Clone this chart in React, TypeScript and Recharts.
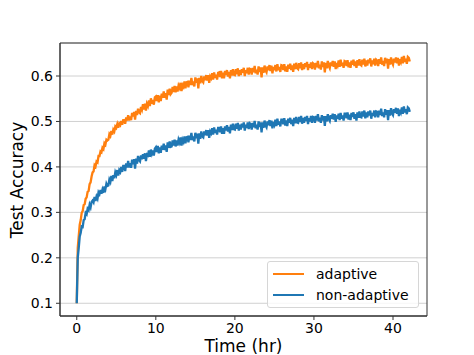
import { LineChart, Line, XAxis, YAxis, CartesianGrid, Legend, ReferenceArea } from "recharts";

// the runs were logged every 0.125 hr
const STEP = 0.125;

// test accuracy, adaptive run (16 samples per 2 hr row)
const adaptive = [
  0.1, 0.222, 0.248, 0.273, 0.283, 0.299, 0.303, 0.316, 0.318, 0.33, 0.333, 0.345, 0.347, 0.362, 0.366, 0.379,
  0.388, 0.39, 0.404, 0.401, 0.412, 0.41, 0.424, 0.424, 0.434, 0.432, 0.442, 0.439, 0.452, 0.449, 0.46, 0.458,
  0.46, 0.472, 0.468, 0.479, 0.471, 0.482, 0.478, 0.489, 0.486, 0.494, 0.486, 0.495, 0.492, 0.501, 0.493, 0.503,
  0.503, 0.495, 0.509, 0.502, 0.514, 0.502, 0.511, 0.503, 0.519, 0.511, 0.521, 0.504, 0.523, 0.514, 0.528, 0.52,
  0.518, 0.532, 0.526, 0.538, 0.526, 0.539, 0.524, 0.539, 0.534, 0.546, 0.534, 0.551, 0.539, 0.547, 0.537, 0.553,
  0.555, 0.545, 0.558, 0.542, 0.557, 0.545, 0.561, 0.552, 0.566, 0.552, 0.562, 0.548, 0.57, 0.558, 0.572, 0.56,
  0.563, 0.576, 0.565, 0.578, 0.564, 0.577, 0.566, 0.579, 0.574, 0.585, 0.567, 0.58, 0.576, 0.588, 0.573, 0.586,
  0.587, 0.575, 0.59, 0.58, 0.596, 0.58, 0.588, 0.577, 0.597, 0.585, 0.595, 0.573, 0.596, 0.584, 0.6, 0.589,
  0.586, 0.599, 0.591, 0.602, 0.59, 0.602, 0.585, 0.599, 0.595, 0.606, 0.592, 0.608, 0.596, 0.603, 0.592, 0.607,
  0.608, 0.598, 0.611, 0.595, 0.607, 0.595, 0.611, 0.602, 0.613, 0.599, 0.609, 0.595, 0.613, 0.601, 0.615, 0.603,
  0.602, 0.615, 0.604, 0.617, 0.6, 0.613, 0.602, 0.615, 0.607, 0.618, 0.6, 0.613, 0.606, 0.618, 0.603, 0.616,
  0.615, 0.603, 0.618, 0.608, 0.622, 0.606, 0.614, 0.603, 0.621, 0.609, 0.619, 0.597, 0.619, 0.607, 0.623, 0.612,
  0.608, 0.621, 0.613, 0.624, 0.611, 0.623, 0.606, 0.62, 0.613, 0.624, 0.61, 0.626, 0.613, 0.62, 0.609, 0.624,
  0.623, 0.613, 0.626, 0.61, 0.621, 0.609, 0.625, 0.616, 0.627, 0.613, 0.623, 0.609, 0.627, 0.615, 0.629, 0.617,
  0.615, 0.628, 0.617, 0.63, 0.613, 0.626, 0.615, 0.628, 0.62, 0.631, 0.613, 0.626, 0.618, 0.63, 0.615, 0.628,
  0.626, 0.614, 0.629, 0.619, 0.633, 0.617, 0.625, 0.614, 0.632, 0.62, 0.63, 0.608, 0.629, 0.617, 0.633, 0.622,
  0.617, 0.63, 0.622, 0.633, 0.62, 0.632, 0.615, 0.629, 0.623, 0.634, 0.62, 0.636, 0.622, 0.629, 0.618, 0.633,
  0.632, 0.622, 0.635, 0.619, 0.63, 0.618, 0.634, 0.625, 0.636, 0.622, 0.632, 0.618, 0.635, 0.623, 0.637, 0.625,
  0.623, 0.636, 0.625, 0.638, 0.621, 0.634, 0.623, 0.636, 0.628, 0.639, 0.621, 0.634, 0.626, 0.638, 0.623, 0.636,
  0.634, 0.622, 0.637, 0.627, 0.641, 0.625, 0.633, 0.622, 0.64, 0.628, 0.638, 0.616, 0.637, 0.625, 0.641, 0.63,
  0.625, 0.638, 0.63, 0.641, 0.628, 0.64, 0.623, 0.637, 0.631, 0.642, 0.628, 0.644, 0.631, 0.638, 0.627, 0.642,
  0.64, 0.632,
];

// test accuracy, non-adaptive run
const nonAdaptive = [
  0.1, 0.2, 0.222, 0.247, 0.255, 0.269, 0.268, 0.283, 0.285, 0.299, 0.296, 0.308, 0.305, 0.317, 0.311, 0.323,
  0.326, 0.322, 0.334, 0.325, 0.335, 0.33, 0.344, 0.34, 0.349, 0.341, 0.35, 0.343, 0.357, 0.351, 0.363, 0.358,
  0.359, 0.372, 0.367, 0.38, 0.369, 0.382, 0.375, 0.388, 0.382, 0.393, 0.381, 0.393, 0.389, 0.4, 0.389, 0.402,
  0.402, 0.391, 0.408, 0.399, 0.413, 0.399, 0.408, 0.398, 0.416, 0.406, 0.417, 0.396, 0.418, 0.407, 0.424, 0.415,
  0.412, 0.425, 0.417, 0.428, 0.418, 0.43, 0.413, 0.427, 0.425, 0.436, 0.422, 0.438, 0.429, 0.436, 0.425, 0.44,
  0.443, 0.433, 0.446, 0.43, 0.443, 0.431, 0.447, 0.438, 0.451, 0.437, 0.447, 0.433, 0.454, 0.442, 0.456, 0.444,
  0.445, 0.458, 0.447, 0.46, 0.445, 0.458, 0.447, 0.46, 0.454, 0.465, 0.447, 0.46, 0.455, 0.467, 0.452, 0.465,
  0.466, 0.454, 0.469, 0.459, 0.475, 0.459, 0.467, 0.456, 0.475, 0.463, 0.473, 0.451, 0.474, 0.462, 0.478, 0.467,
  0.465, 0.478, 0.47, 0.481, 0.469, 0.481, 0.464, 0.478, 0.474, 0.485, 0.471, 0.487, 0.475, 0.482, 0.471, 0.486,
  0.486, 0.476, 0.489, 0.473, 0.485, 0.473, 0.489, 0.48, 0.492, 0.478, 0.488, 0.474, 0.493, 0.481, 0.495, 0.483,
  0.482, 0.495, 0.484, 0.497, 0.48, 0.493, 0.482, 0.495, 0.487, 0.498, 0.48, 0.493, 0.486, 0.498, 0.483, 0.496,
  0.494, 0.482, 0.497, 0.487, 0.501, 0.485, 0.493, 0.482, 0.5, 0.488, 0.498, 0.476, 0.498, 0.486, 0.502, 0.491,
  0.487, 0.5, 0.492, 0.503, 0.49, 0.502, 0.485, 0.499, 0.493, 0.504, 0.49, 0.506, 0.493, 0.5, 0.489, 0.504,
  0.504, 0.494, 0.507, 0.491, 0.502, 0.49, 0.506, 0.497, 0.508, 0.494, 0.504, 0.49, 0.508, 0.496, 0.51, 0.498,
  0.497, 0.51, 0.499, 0.512, 0.495, 0.508, 0.497, 0.51, 0.501, 0.512, 0.494, 0.507, 0.5, 0.512, 0.497, 0.51,
  0.509, 0.497, 0.512, 0.502, 0.516, 0.5, 0.508, 0.497, 0.514, 0.502, 0.512, 0.49, 0.512, 0.5, 0.516, 0.505,
  0.501, 0.514, 0.506, 0.517, 0.504, 0.516, 0.499, 0.513, 0.506, 0.517, 0.503, 0.519, 0.506, 0.513, 0.502, 0.517,
  0.517, 0.507, 0.52, 0.504, 0.515, 0.503, 0.519, 0.51, 0.52, 0.506, 0.516, 0.502, 0.52, 0.508, 0.522, 0.51,
  0.509, 0.522, 0.511, 0.524, 0.507, 0.52, 0.509, 0.522, 0.513, 0.524, 0.506, 0.519, 0.512, 0.524, 0.509, 0.522,
  0.521, 0.509, 0.524, 0.514, 0.528, 0.512, 0.52, 0.509, 0.527, 0.515, 0.525, 0.503, 0.525, 0.513, 0.529, 0.518,
  0.514, 0.527, 0.519, 0.53, 0.517, 0.529, 0.512, 0.526, 0.52, 0.531, 0.517, 0.533, 0.52, 0.527, 0.516, 0.531,
  0.529, 0.521,
];

const xTicks = [0, 10, 20, 30, 40];
const yTicks = [0.1, 0.2, 0.3, 0.4, 0.5, 0.6];

const X_DOMAIN: [number, number] = [-2.12, 44.3];
const Y_DOMAIN: [number, number] = [0.072, 0.6726];

const data = adaptive.map((v, i) => ({
  t: i * STEP,
  adaptive: v,
  nonAdaptive: nonAdaptive[i],
}));

const font = "'DejaVu Sans', sans-serif";

function LegendBox(props: any) {
  const items = props.payload || [];
  return (
    <div
      style={{
        width: 152,
        height: 47,
        boxSizing: "border-box",
        background: "rgba(255,255,255,0.8)",
        border: "1px solid #d6d6d6",
        borderRadius: 3,
        fontFamily: font,
        fontSize: 14,
        color: "#000",
        paddingTop: 1,
      }}
    >
      {items.map((it: any) => (
        <div key={it.value} style={{ display: "flex", alignItems: "center", height: 21 }}>
          <div style={{ width: 31, height: 2, background: it.color, marginLeft: 5, marginRight: 12 }} />
          <span>{it.value}</span>
        </div>
      ))}
    </div>
  );
}

export default function App() {
  return (
    <div style={{ position: "absolute", left: 0, top: 0, width: 474, height: 355, background: "#fff" }}>
      <style>{`body{margin:0}`}</style>
      <LineChart width={474} height={355} data={data} margin={{ top: 43, right: 47, bottom: 0, left: 0 }}>
        <CartesianGrid vertical={false} stroke="#d0d0d0" strokeWidth={1} />
        <XAxis
          dataKey="t"
          type="number"
          domain={X_DOMAIN}
          ticks={xTicks}
          height={39}
          stroke="#333"
          tickSize={4}
          tickMargin={3}
          tick={{ fill: "#000", fontSize: 14, fontFamily: font }}
          label={{ value: "Time (hr)", position: "insideBottom", offset: 3, fill: "#000", fontSize: 17, fontFamily: font }}
        />
        <YAxis
          type="number"
          domain={Y_DOMAIN}
          ticks={yTicks}
          width={60}
          stroke="#333"
          tickSize={4}
          tickMargin={3}
          tickFormatter={(v: number) => v.toFixed(1)}
          tick={{ fill: "#000", fontSize: 14, fontFamily: font }}
          label={{
            content: () => (
              <text
                x={17}
                y={186}
                transform="rotate(-90 17 180)"
                textAnchor="middle"
                fill="#000"
                fontSize={17}
                fontFamily={font}
              >
                Test Accuracy
              </text>
            ),
          }}
        />
        <ReferenceArea
          x1={X_DOMAIN[0]}
          x2={X_DOMAIN[1]}
          y1={Y_DOMAIN[0]}
          y2={Y_DOMAIN[1]}
          fill="none"
          stroke="#333"
          strokeWidth={1}
          ifOverflow="visible"
        />
        <Line
          type="linear"
          dataKey="adaptive"
          name="adaptive"
          stroke="#ff7f0e"
          strokeWidth={2.3}
          dot={false}
          isAnimationActive={false}
        />
        <Line
          type="linear"
          dataKey="nonAdaptive"
          name="non-adaptive"
          stroke="#1f77b4"
          strokeWidth={2.3}
          dot={false}
          isAnimationActive={false}
        />
        <Legend
          layout="vertical"
          align="center"
          verticalAlign="middle"
          content={LegendBox}
          wrapperStyle={{ left: 267, top: 261, width: 152 }}
        />
      </LineChart>
    </div>
  );
}
